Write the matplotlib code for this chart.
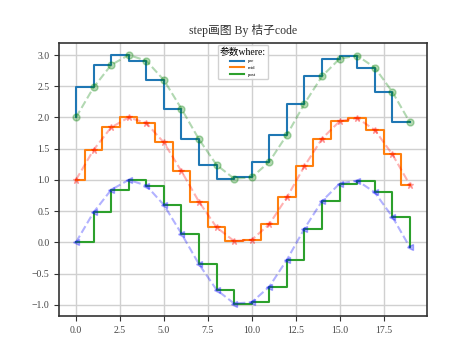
import matplotlib.pyplot as plt

# x positions and the sine-like wave
x = [0, 1, 2, 3, 4, 5, 6, 7, 8, 9, 10, 11, 12, 13, 14, 15, 16, 17, 18, 19]
y = [0.0, 0.48, 0.84, 1.0, 0.91, 0.6, 0.14, -0.35, -0.76, -0.98,
     -0.96, -0.71, -0.28, 0.22, 0.66, 0.94, 0.99, 0.8, 0.41, -0.08]
y_pre = [v + 2 for v in y]
y_mid = [v + 1 for v in y]
y_post = y

plt.rcParams['font.family'] = ['Liberation Serif', 'Noto Sans CJK SC', 'DejaVu Sans']

fig, ax = plt.subplots(figsize=(4.74, 3.55), dpi=100)

ax.step(x, y_pre, where='pre', label='pre', color='C0', lw=1.5)
ax.plot(x, y_pre, 'o--', color='g', alpha=0.3, ms=5)

ax.step(x, y_mid, where='mid', label='mid', color='C1', lw=1.5)
ax.plot(x, y_mid, '*--', color='r', alpha=0.3, ms=5)

ax.step(x, y_post, where='post', label='post', color='C2', lw=1.5)
ax.plot(x, y_post, '<--', color='b', alpha=0.3, ms=5)

ax.grid(color='#d0d0d0', lw=1)
ax.set_axisbelow(True)
for s in ax.spines.values():
    s.set_color('#333333')
    s.set_linewidth(1.2)
ax.tick_params(labelsize=7, colors='#333333', labelcolor='#444444')
ax.set_title('step画图 By 桔子code', fontsize=8.5, color='#333333')
leg = ax.legend(title='参数where:', loc='upper center', fontsize=3.5,
                title_fontsize=7, framealpha=0.9, handlelength=3)

fig.savefig('out.png')
